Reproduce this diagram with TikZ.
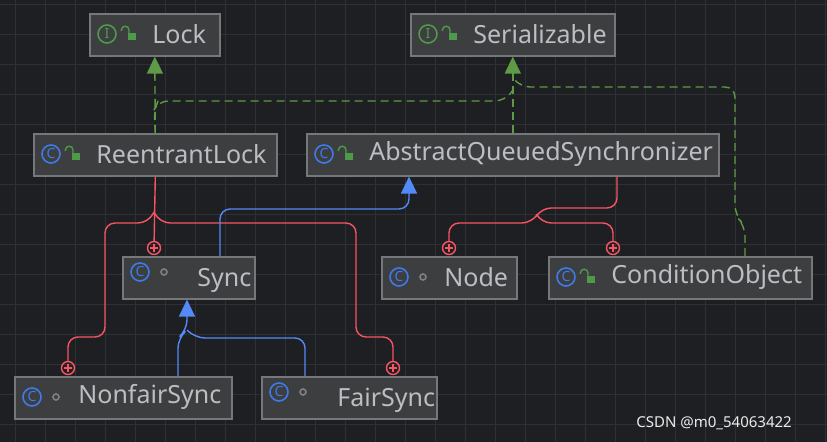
\documentclass[tikz,border=0pt]{standalone}
\usepackage{fontspec}
\setmainfont{Noto Sans}
\usetikzlibrary{arrows.meta,calc}

\definecolor{bgdark}{HTML}{1E1F22}
\definecolor{gridline}{HTML}{2F3034}
\definecolor{boxfill}{HTML}{3C3E40}
\definecolor{boxline}{HTML}{75777B}
\definecolor{txtgray}{HTML}{BCBEC4}
\definecolor{nestred}{HTML}{F75464}
\definecolor{extblue}{HTML}{548AF7}
\definecolor{implgreen}{HTML}{5E9B46}
\definecolor{iconblue}{HTML}{3F7BE8}
\definecolor{icongreen}{HTML}{4E9A4A}

\newcommand{\padlock}[2]{%
	\fill[icongreen] (#1-2,#2-1) rectangle (#1+6,#2+6);
	\draw[icongreen, line width=0.7pt] (#1-1,#2-1) -- (#1-1,#2-4) arc[start angle=0, end angle=180, radius=1.9pt] -- (#1-8.6,#2-3);
}

\begin{document}
\begin{tikzpicture}[x=0.5pt, y=-0.5pt,
	box/.style={draw=boxline, fill=boxfill, line width=0.8pt, anchor=north west, inner sep=0pt, minimum height=21pt},
	lbl/.style={anchor=west, text=txtgray, font=\fontsize{12.5}{14}\selectfont, inner sep=0pt},
	cicon/.style={circle, draw=iconblue, line width=0.8pt, minimum size=9pt, inner sep=0pt, text=iconblue, font=\fontsize{7}{7}\selectfont\bfseries},
	iicon/.style={cicon, draw=icongreen, text=icongreen},
	dot/.style={circle, draw=gray, line width=0.8pt, minimum size=3pt, inner sep=0pt},
	plusnode/.style={circle, draw=nestred, line width=0.7pt, minimum size=6.5pt, inner sep=0pt,
		path picture={\draw[nestred, line width=0.6pt] ($(path picture bounding box.center)+(-1.8pt,0)$) -- ++(3.6pt,0)
			($(path picture bounding box.center)+(0,-1.8pt)$) -- ++(0,3.6pt);}},
	nest/.style={draw=nestred, line width=0.7pt, rounded corners=5pt},
	ext/.style={draw=extblue, line width=0.7pt, rounded corners=5pt},
	impl/.style={draw=implgreen, line width=0.7pt, dash pattern=on 4pt off 2.5pt, rounded corners=5pt},
	gtip/.style={-{Triangle[length=8.5pt, width=8pt, fill=implgreen]}},
	btip/.style={-{Triangle[length=8.5pt, width=8pt, fill=extblue]}}]

	% background and grid
	\fill[bgdark] (0,0) rectangle (827,442);
	\useasboundingbox (0,0) rectangle (827,442);
	\foreach \gx in {15,45,...,825}
		\draw[gridline, line width=0.5pt] (\gx,0) -- (\gx,442);
	\foreach \gy in {5,35,...,440}
		\draw[gridline, line width=0.5pt] (0,\gy) -- (827,\gy);

	% classes
	\node[box, minimum width=65pt] (lock) at (89,13) {};
	\node[iicon] (lockI) at (107,34) {I};
	\padlock{130}{34}
	\node[lbl] (lockT) at (152,34) {Lock};

	\node[box, minimum width=102pt] (serial) at (410,13) {};
	\node[iicon] (serialI) at (428,34) {I};
	\padlock{451}{34}
	\node[lbl] (serialT) at (473,34) {Serializable};

	\node[box, minimum width=121.5pt] (rlock) at (33,133) {};
	\node[cicon] (rlockC) at (51,154) {C};
	\padlock{74}{154}
	\node[lbl] (rlockT) at (96,154) {ReentrantLock};

	\node[box, minimum width=206pt] (aqs) at (306,133) {};
	\node[cicon] (aqsC) at (324,154) {C};
	\padlock{347}{154}
	\node[lbl] (aqsT) at (369,154) {AbstractQueuedSynchronizer};

	\node[box, minimum width=66pt] (sync) at (122,256) {};
	\node[cicon] (syncC) at (140,272) {C};
	\node[dot] (syncD) at (164,272) {};
	\node[lbl] (syncT) at (197,280) {Sync};

	\node[box, minimum width=67.5pt] (node) at (381,256) {};
	\node[cicon] (nodeC) at (399,277) {C};
	\node[dot] (nodeD) at (423,277) {};
	\node[lbl] (nodeT) at (444,277) {Node};

	\node[box, minimum width=131.5pt] (cond) at (548,256) {};
	\node[cicon] (condC) at (566,277) {C};
	\padlock{589}{277}
	\node[lbl] (condT) at (611,277) {ConditionObject};

	\node[box, minimum width=108.5pt] (nfair) at (14,376) {};
	\node[cicon] (nfairC) at (32,397) {C};
	\node[dot] (nfairD) at (56,397) {};
	\node[lbl] (nfairT) at (78,397) {NonfairSync};

	\node[box, minimum width=87.5pt] (fair) at (261,376) {};
	\node[cicon] (fairC) at (279,392) {C};
	\node[dot] (fairD) at (303,392) {};
	\node[lbl] (fairT) at (337,400) {FairSync};

	% nesting markers
	\node[plusnode] (pSync) at (154,248) {};
	\node[plusnode] (pNfair) at (68,368) {};
	\node[plusnode] (pFair) at (393,368) {};
	\node[plusnode] (pNode) at (449,248) {};
	\node[plusnode] (pCond) at (613,248) {};

	% realisation
	\draw[impl, gtip] (rlock.north) -- (lock.south);
	\draw[impl, gtip] (aqs.north) -- (serial.south);
	\draw[impl] (rlock.north) -- (154,110) -- (158,101) -- (505,101) -- (513,90);
	\draw[impl] (cond.north -| 745,0) -- (745,226) -- (735,215) -- (735,87) -- (520,87) -- (513,78);

	% nesting
	\draw[nest] (rlock.south) -- (pSync);
	\draw[nest] (154,212) -- (148,223) -- (105,223) -- (105,337) -- (68,337) -- (pNfair);
	\draw[nest] (154,212) -- (160,223) -- (356,223) -- (356,337) -- (393,337) -- (pFair);
	\draw[nest] (aqs.south -| 617,0) -- (617,208) -- (541,208) -- (537,215);
	\draw[nest] (537,215) -- (532,223) -- (449,223) -- (pNode);
	\draw[nest] (537,215) -- (541,223) -- (613,223) -- (pCond);

	% inheritance
	\draw[ext, btip] (sync.north -| 220,0) -- (220,209) -- (409,209) -- (aqs.south -| 409,0);
	\draw[ext, btip] (nfair.north -| 178,0) -- (178,338) -- (187,330) -- (sync.south -| 187,0);
	\draw[ext] (fair.north -| 305,0) -- (305,338) -- (195,338) -- (187,330);

	% watermark
	\node[anchor=west, text=white!85!gray, font=\fontsize{7.5}{9}\selectfont, inner sep=0pt] (mark) at (636,423) {CSDN @m0\_54063422};
\end{tikzpicture}
\end{document}
